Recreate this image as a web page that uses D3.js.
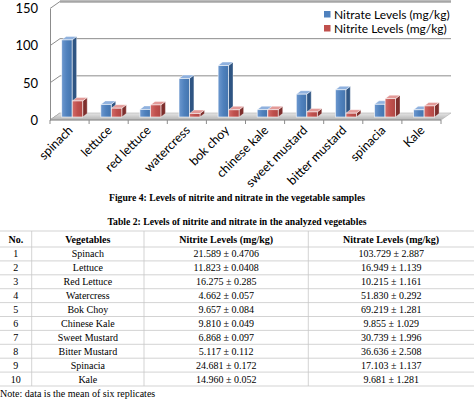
<!DOCTYPE html>
<html>
<head>
<meta charset="utf-8">
<script src="https://cdn.jsdelivr.net/npm/d3@7"></script>
<style>
  body { margin: 0; background: #fff; }
  svg { display: block; }
</style>
</head>
<body>
<div id="chart"></div>
<script>
// chart data (mg/kg)
const categories = ["spinach", "lettuce", "red lettuce", "watercress", "bok choy",
  "chinese kale", "sweet mustard", "bitter mustard", "spinacia", "Kale"];
const nitrate = [103.729, 16.949, 10.215, 51.830, 69.219, 9.855, 30.739, 36.636, 17.103, 9.681];
const nitrite = [21.589, 11.823, 16.275, 4.662, 9.657, 9.810, 6.868, 5.117, 24.681, 14.960];
const yTicks = [0, 50, 100, 150];
const seriesNames = ["Nitrate Levels (mg/kg)", "Nitrite Levels (mg/kg)"];

// table data
const tableNames = ["Spinach", "Lettuce", "Red Lettuce", "Watercress", "Bok Choy",
  "Chinese Kale", "Sweet Mustard", "Bitter Mustard", "Spinacia", "Kale"];
const nitriteSD = ["0.4706", "0.0408", "0.285", "0.057", "0.084", "0.049", "0.097", "0.112", "0.172", "0.052"];
const nitrateSD = ["2.887", "1.139", "1.161", "0.292", "1.281", "1.029", "1.996", "2.508", "1.137", "1.281"];
const tableHeader = ["No.", "Vegetables", "Nitrite Levels (mg/kg)", "Nitrate Levels (mg/kg)"];

const W = 474, H = 399;
const svg = d3.select("#chart").append("svg").attr("width", W).attr("height", H);

const defs = svg.append("defs");
const grad = (id, stops, x2, y2) => {
  const g = defs.append("linearGradient").attr("id", id)
    .attr("x1", 0).attr("y1", 0).attr("x2", x2).attr("y2", y2);
  stops.forEach(s => g.append("stop").attr("offset", s[0]).attr("stop-color", s[1]));
};
grad("blueFront", [[0, "#6d98cf"], [0.5, "#4f81bd"], [1, "#4474ad"]], 1, 0);
grad("redFront", [[0, "#d26c69"], [0.5, "#c0504d"], [1, "#b04744"]], 1, 0);
grad("floorG", [[0, "#e6e6e6"], [1, "#b3b3b3"]], 0, 1);

// plot geometry
const x0 = 50, x1 = 441;
const depth = {dx: 10, dy: -7};     // wall depth
const barOff = {dx: 4, dy: -3};     // bars sit a bit behind the front plane
const barDepth = {dx: 4.5, dy: -3.5};

const xScale = d3.scaleBand().domain(categories).range([x0, x1]);
const yScale = d3.scaleLinear().domain([0, 150]).range([120, 8.5]);

const chart = svg.append("g");

// back wall gridlines
chart.selectAll(".grid").data(yTicks.filter(d => d > 0)).enter().append("line")
  .attr("x1", x0 + depth.dx).attr("x2", x1 + depth.dx)
  .attr("y1", d => yScale(d) + depth.dy).attr("y2", d => yScale(d) + depth.dy)
  .attr("stroke", d => d === 150 ? "#a6a6a6" : "#8c8c8c")
  .attr("stroke-width", d => d === 150 ? 2.5 : 1);

// side wall gridlines (diagonals)
chart.selectAll(".diag").data(yTicks).enter().append("line")
  .attr("x1", x0).attr("y1", d => yScale(d))
  .attr("x2", x0 + depth.dx).attr("y2", d => yScale(d) + depth.dy)
  .attr("stroke", "#8c8c8c").attr("stroke-width", 1);

// floor
chart.append("path")
  .attr("d", `M${x0},${yScale(0)} L${x1},${yScale(0)} L${x1 + depth.dx},${yScale(0) + depth.dy} L${x0 + depth.dx},${yScale(0) + depth.dy} Z`)
  .attr("fill", "url(#floorG)").attr("stroke", "#b0b0b0").attr("stroke-width", 0.6);

// y axis
const yAxis = d3.axisLeft(yScale).tickValues(yTicks).tickSize(0).tickPadding(12);
chart.append("g").attr("transform", `translate(${x0},0)`).call(yAxis)
  .call(g => g.select(".domain").attr("stroke", "#8c8c8c"))
  .call(g => g.selectAll("text").attr("font-family", "Lato, 'Liberation Sans', sans-serif")
    .attr("font-size", 13).attr("fill", "#000"));

// x axis baseline and ticks at band boundaries
chart.append("line").attr("x1", x0).attr("x2", x1)
  .attr("y1", yScale(0)).attr("y2", yScale(0)).attr("stroke", "#8c8c8c");
chart.selectAll(".xtick").data(d3.range(categories.length + 1)).enter().append("line")
  .attr("x1", i => x0 + i * xScale.step()).attr("x2", i => x0 + i * xScale.step())
  .attr("y1", yScale(0)).attr("y2", yScale(0) + 4)
  .attr("stroke", "#8c8c8c");

chart.selectAll(".xlabel").data(categories).enter().append("text")
  .attr("transform", d => `translate(${xScale(d) + xScale.bandwidth() / 2 + 4},${yScale(0) + 11}) rotate(-45)`)
  .attr("text-anchor", "end")
  .attr("font-family", "Lato, 'Liberation Sans', sans-serif")
  .attr("font-size", 12.5).attr("fill", "#000")
  .text(d => d);

// 3D bars
const barW = 10.4;
const series = [
  {values: nitrate, off: 7.7, front: "url(#blueFront)", side: "#2f5583", top: "#8fb1de"},
  {values: nitrite, off: 18.3, front: "url(#redFront)", side: "#7e2f2d", top: "#e39a98"}
];
const bars = [];
categories.forEach((c, i) => {
  series.forEach(s => bars.push({c, v: s.values[i], off: s.off, s}));
});

const barG = chart.selectAll(".bar").data(bars).enter().append("g");
const bx = d => xScale(d.c) + d.off + barOff.dx;
const by = d => yScale(d.v) + barOff.dy;
const bb = () => yScale(0) + barOff.dy;

barG.append("path") // side
  .attr("d", d => `M${bx(d) + barW},${by(d)} L${bx(d) + barW + barDepth.dx},${by(d) + barDepth.dy} L${bx(d) + barW + barDepth.dx},${bb() + barDepth.dy} L${bx(d) + barW},${bb()} Z`)
  .attr("fill", d => d.s.side).attr("stroke", "rgba(255,255,255,0.6)").attr("stroke-width", 0.6);
barG.append("path") // top
  .attr("d", d => `M${bx(d)},${by(d)} L${bx(d) + barDepth.dx},${by(d) + barDepth.dy} L${bx(d) + barW + barDepth.dx},${by(d) + barDepth.dy} L${bx(d) + barW},${by(d)} Z`)
  .attr("fill", d => d.s.top).attr("stroke", "rgba(255,255,255,0.7)").attr("stroke-width", 0.6);
barG.append("rect") // front
  .attr("x", bx).attr("y", by).attr("width", barW).attr("height", d => bb() - by(d))
  .attr("fill", d => d.s.front).attr("stroke", "rgba(255,255,255,0.75)").attr("stroke-width", 0.8);

// legend
const legend = chart.append("g").attr("transform", "translate(324,8)");
seriesNames.forEach((name, i) => {
  const row = legend.append("g").attr("transform", `translate(0,${i * 14})`);
  row.append("rect").attr("x", 0).attr("y", 3).attr("width", 6.5).attr("height", 6.5)
    .attr("fill", i === 0 ? "#4f81bd" : "#c0504d");
  row.append("text").attr("x", 10).attr("y", 10.5)
    .attr("font-family", "Lato, 'Liberation Sans', sans-serif").attr("font-size", 12)
    .attr("fill", "#000").text(name);
});

// captions
const serif = "'Liberation Serif', 'Times New Roman', serif";
svg.append("text").attr("x", 237).attr("y", 201).attr("text-anchor", "middle")
  .attr("font-family", serif).attr("font-weight", "bold").attr("font-size", 9.7)
  .text("Figure 4: Levels of nitrite and nitrate in the vegetable samples");
svg.append("text").attr("x", 237).attr("y", 225).attr("text-anchor", "middle")
  .attr("font-family", serif).attr("font-weight", "bold").attr("font-size", 9.7)
  .text("Table 2: Levels of nitrite and nitrate in the analyzed vegetables");

// table
const colEdges = [0, 31.7, 144, 308.3, 474];
const headY = 231, headH = 16, rowH = 13.9;
const rowLines = d3.range(tableNames.length + 2).map(i => i === 0 ? headY : headY + headH + (i - 1) * rowH);
const table = svg.append("g");
table.selectAll(".hl").data(rowLines).enter().append("line")
  .attr("x1", 0).attr("x2", W).attr("y1", d => d).attr("y2", d => d)
  .attr("stroke", "#c8c8c8").attr("stroke-width", 0.8);
table.selectAll(".vl").data(colEdges.slice(1, 4)).enter().append("line")
  .attr("x1", d => d).attr("x2", d => d)
  .attr("y1", headY).attr("y2", rowLines[rowLines.length - 1])
  .attr("stroke", "#c8c8c8").attr("stroke-width", 0.8);

const colMid = i => (colEdges[i] + colEdges[i + 1]) / 2;
table.selectAll(".th").data(tableHeader).enter().append("text")
  .attr("x", (d, i) => colMid(i)).attr("y", headY + headH / 2 + 3.5)
  .attr("text-anchor", "middle").attr("font-family", serif).attr("font-weight", "bold")
  .attr("font-size", 10).text(d => d);

const rows = tableNames.map((n, i) => [
  String(i + 1), n,
  `${nitrite[i].toFixed(3)} ± ${nitriteSD[i]}`,
  `${nitrate[i].toFixed(3)} ± ${nitrateSD[i]}`
]);
rows.forEach((r, ri) => {
  const cy = headY + headH + ri * rowH + rowH / 2 + 3.5;
  table.selectAll(null).data(r).enter().append("text")
    .attr("x", (d, i) => colMid(i)).attr("y", cy)
    .attr("text-anchor", "middle").attr("font-family", serif)
    .attr("font-size", 10).text(d => d);
});

svg.append("text").attr("x", 0).attr("y", 396.5)
  .attr("font-family", serif).attr("font-size", 10)
  .text("Note: data is the mean of six replicates");
</script>
</body>
</html>
